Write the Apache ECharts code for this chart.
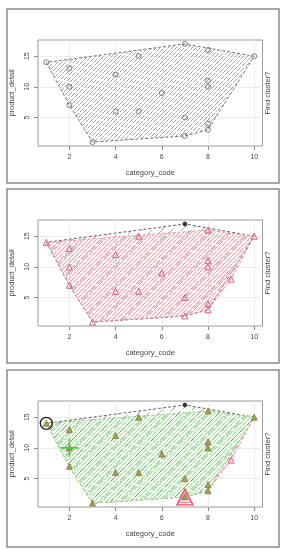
<!DOCTYPE html>
<html><head><meta charset="utf-8">
<script src="https://cdn.jsdelivr.net/npm/echarts@6/dist/echarts.min.js"></script>
<style>html,body{margin:0;padding:0;background:#fff;}#c{width:287px;height:550px;}</style>
</head><body><div id="c"></div>
<script>
// ---- data ----
const xTicks = [2, 4, 6, 8, 10];
const yTicks = [5, 10, 15];
const xName = 'category_code';
const yName = 'product_detail';
const sideName = 'Find cluster?';
// all points (panel 1, black cluster)
const px1 = [1, 2, 2, 2, 3, 4, 4, 5, 5, 6, 7, 7, 7, 8, 8, 8, 8, 8, 10];
const py1 = [14, 13, 10, 7, 1, 12, 6, 15, 6, 9, 17, 5, 2, 16, 11, 10, 4, 3, 15];
// pink cluster (panel 2 and 3)
const px2 = [1, 2, 2, 2, 3, 4, 4, 5, 5, 6, 7, 7, 8, 8, 8, 8, 8, 9, 10];
const py2 = [14, 13, 10, 7, 1, 12, 6, 15, 6, 9, 5, 2, 16, 11, 10, 4, 3, 8, 15];
// green cluster (panel 3)
const px3 = [1, 2, 2, 2, 3, 4, 4, 5, 5, 6, 7, 7, 8, 8, 8, 8, 8, 10];
const py3 = [14, 13, 10, 7, 1, 12, 6, 15, 6, 9, 5, 2, 16, 11, 10, 4, 3, 15];
// panel 3 highlights
const selCircleX = [1], selCircleY = [14];
const plusX = [2], plusY = [10];
const bigTriX = [7], bigTriY = [2];

const zip = (xs, ys) => xs.map((x, i) => [x, ys[i]]);
const P1 = zip(px1, py1), P2 = zip(px2, py2), P3 = zip(px3, py3);
const notIn = (a, b) => a.filter(p => !b.some(q => q[0] === p[0] && q[1] === p[1]));
const pinkOnly3 = notIn(P2, P3);
const black2Only = notIn(P1, P2);

function hull(pts) {
  const p = pts.slice().sort((a, b) => a[0] - b[0] || a[1] - b[1]);
  const cr = (o, a, b) => (a[0] - o[0]) * (b[1] - o[1]) - (a[1] - o[1]) * (b[0] - o[0]);
  const lo = [], up = [];
  for (const q of p) { while (lo.length >= 2 && cr(lo[lo.length - 2], lo[lo.length - 1], q) <= 0) lo.pop(); lo.push(q); }
  for (let i = p.length - 1; i >= 0; i--) { const q = p[i]; while (up.length >= 2 && cr(up[up.length - 2], up[up.length - 1], q) <= 0) up.pop(); up.push(q); }
  lo.pop(); up.pop(); return lo.concat(up);
}

function hatch(color, h, lw, m, dashFrac, offset) {
  const N = 40, c = document.createElement('canvas');
  c.width = N; c.height = N;
  const ctx = c.getContext('2d');
  const p = N * Math.SQRT2 / m;
  ctx.strokeStyle = color; ctx.lineWidth = lw;
  const nPer = N / h;
  let idx = 0;
  for (let k = -2 * N; k <= 3 * N; k += h, idx++) {
    const ph = (((idx % nPer) + nPer) % nPer) * 0.37 * p;
    ctx.setLineDash([p * dashFrac, p * (1 - dashFrac)]);
    ctx.lineDashOffset = ph;
    ctx.beginPath();
    ctx.moveTo(-N, k + offset + N);
    ctx.lineTo(2 * N, k + offset - 2 * N);
    ctx.stroke();
  }
  return { image: c, repeat: 'repeat' };
}

const patGray = hatch('#8a8a8a', 4, 0.8, 8, 0.75, 0);
const patDark = hatch('rgba(70,70,70,0.6)', 10, 0.8, 5, 0.7, 2);
const patPink = hatch('#f3a0b2', 4, 1.1, 8, 0.85, 0);
const patGreen = hatch('#98e092', 4, 1.1, 8, 0.85, 0);

const chart = echarts.init(document.getElementById('c'));
const FONT = 'Liberation Sans, Arial, sans-serif';
const TXT = '#444';
const tops = [40, 220, 401];
const grids = tops.map(t => ({ left: 37.5, top: t, width: 225, height: 106, show: true, borderColor: '#9a9a9a', borderWidth: 1, backgroundColor: 'transparent' }));

function xAx(i) {
  return { type: 'value', gridIndex: i, min: 0.64, max: 10.36,
    axisLine: { show: false }, splitLine: { show: false },
    axisTick: { show: true, length: 4, lineStyle: { color: '#888' }, customValues: xTicks },
    axisLabel: { customValues: xTicks, fontSize: 7, color: TXT, margin: 8, fontFamily: FONT },
    name: xName, nameLocation: 'middle', nameGap: 23, nameTextStyle: { fontSize: 7.5, color: TXT, fontFamily: FONT } };
}
function yAx(i) {
  return { type: 'value', gridIndex: i, min: 0.36, max: 17.64,
    axisLine: { show: false }, splitLine: { show: false },
    axisTick: { show: true, length: 4, lineStyle: { color: '#888' }, customValues: yTicks },
    axisLabel: { customValues: yTicks, fontSize: 7, color: TXT, rotate: 90, margin: 7, fontFamily: FONT },
    name: yName, nameLocation: 'middle', nameGap: 22, nameTextStyle: { fontSize: 7.5, color: TXT, fontFamily: FONT } };
}

function gridLines(i) {
  return { type: 'line', xAxisIndex: i, yAxisIndex: i, data: [], silent: true, z: 1,
    markLine: { silent: true, symbol: 'none', z: 1, label: { show: false }, animation: false,
      lineStyle: { color: '#ececec', width: 1, type: 'solid' },
      data: xTicks.map(v => ({ xAxis: v })).concat(yTicks.map(v => ({ yAxis: v }))) } };
}

function hullSeries(i, pts, fill, stroke, z) {
  const H = hull(pts);
  return { type: 'custom', xAxisIndex: i, yAxisIndex: i, z: z, silent: true, data: [0],
    renderItem: (params, api) => ({ type: 'polygon',
      shape: { points: H.map(p => api.coord(p)) },
      style: { fill: fill, stroke: stroke, lineWidth: 0.9, lineDash: [3, 2] } }) };
}

function scat(i, data, symbol, size, color, border, bw, z) {
  return { type: 'scatter', xAxisIndex: i, yAxisIndex: i, data: data, symbol: symbol, symbolSize: size, z: z, silent: true,
    itemStyle: { color: color, borderColor: border, borderWidth: bw, opacity: 1 } };
}

const plusPath = 'path://M-0.09,-1L0.09,-1L0.09,-0.09L1,-0.09L1,0.09L0.09,0.09L0.09,1L-0.09,1L-0.09,0.09L-1,0.09L-1,-0.09L-0.09,-0.09Z';

const series = [
  gridLines(0), gridLines(1), gridLines(2),
  // panel 1
  hullSeries(0, P1, patGray, '#666', 2),
  scat(0, P1, 'circle', 5, 'transparent', '#666', 0.8, 5),
  // panel 2
  hullSeries(1, P1, patDark, '#555', 2),
  hullSeries(1, P2, patPink, '#ef8a9c', 3),
  scat(1, black2Only, 'circle', 4, '#333', '#333', 0.8, 5),
  scat(1, P2, 'triangle', 6, 'transparent', '#d4607a', 1, 6),
  // panel 3
  hullSeries(2, P1, 'none', '#555', 2),
  hullSeries(2, P2, patPink, '#ef8a9c', 3),
  hullSeries(2, P3, '#ffffff', 'none', 3.5),
  hullSeries(2, P3, patGreen, '#8fdc8a', 4),
  hullSeries(2, P1, patDark, 'none', 4.5),
  scat(2, black2Only, 'circle', 4, '#333', '#333', 0.8, 5),
  scat(2, pinkOnly3, 'triangle', 6, 'transparent', '#e0607a', 1, 6),
  scat(2, P3, 'triangle', 6, '#7ab648', '#b0604e', 0.8, 6),
  scat(2, zip(selCircleX, selCircleY), 'circle', 12, 'transparent', '#222', 1.4, 7),
  scat(2, zip(plusX, plusY), plusPath, 18, '#44cc44', '#44cc44', 0, 7),
  scat(2, zip(bigTriX, bigTriY), 'triangle', 16, 'transparent', '#e24a66', 1.3, 7),
  scat(2, zip(bigTriX, bigTriY), 'triangle', 11, 'transparent', '#ee8090', 1, 7)
];

const boxes = [[9, 174], [189, 174], [370, 177]];
const graphic = boxes.map(b => ({ type: 'rect', silent: true, z: 0,
  shape: { x: 7, y: b[0], width: 272, height: b[1] },
  style: { fill: 'none', stroke: '#8c8c8c', lineWidth: 1.5 } }))
  .concat(tops.map(t => ({ type: 'text', silent: true, x: 268, y: t + 53, rotation: Math.PI / 2,
    style: { text: sideName, fontSize: 7.5, fill: TXT, fontFamily: FONT, align: 'center', verticalAlign: 'middle' } })));

chart.setOption({
  animation: false,
  backgroundColor: '#fff',
  grid: grids,
  xAxis: [0, 1, 2].map(xAx),
  yAxis: [0, 1, 2].map(yAx),
  graphic: graphic,
  series: series
});
</script></body></html>
